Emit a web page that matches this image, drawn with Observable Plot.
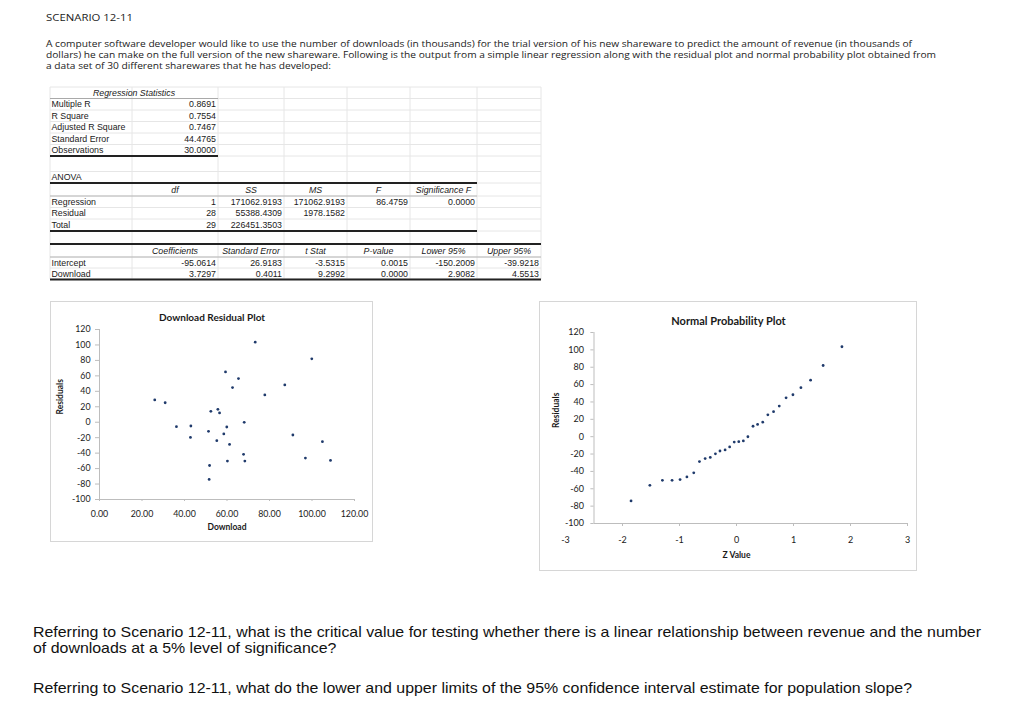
<!DOCTYPE html>
<html><head><meta charset="utf-8">
<script src="https://cdn.jsdelivr.net/npm/d3@7"></script>
<script src="https://cdn.jsdelivr.net/npm/@observablehq/plot@0.6"></script>
<style>
html,body{margin:0;padding:0;background:#fff;}
#page{position:relative;width:1024px;height:711px;overflow:hidden;background:#fff;}
.chartbox{position:absolute;border:1px solid #d6d6d6;background:#fff;}
.chartbox svg{display:block;overflow:visible;}
</style></head><body><div id="page"></div>
<script>
// ---------- text ----------
const scenarioTitle = "SCENARIO 12-11";
const introLines = [
  "A computer software developer would like to use the number of downloads (in thousands) for the trial version of his new shareware to predict the amount of revenue (in thousands of",
  "dollars) he can make on the full version of the new shareware. Following is the output from a simple linear regression along with the residual plot and normal probability plot obtained from",
  "a data set of 30 different sharewares that he has developed:"
];
const questionLines = [
  "Referring to Scenario 12-11, what is the critical value for testing whether there is a linear relationship between revenue and the number",
  "of downloads at a 5% level of significance?",
  "Referring to Scenario 12-11, what do the lower and upper limits of the 95% confidence interval estimate for population slope?"
];

// ---------- regression output tables ----------
const regStatLabels = ["Multiple R", "R Square", "Adjusted R Square", "Standard Error", "Observations"];
const regStatValues = ["0.8691", "0.7554", "0.7467", "44.4765", "30.0000"];
const anovaHeaders = ["df", "SS", "MS", "F", "Significance F"];
const anovaRowLabels = ["Regression", "Residual", "Total"];
const anovaDf = ["1", "28", "29"];
const anovaSS = ["171062.9193", "55388.4309", "226451.3503"];
const anovaMS = ["171062.9193", "1978.1582", ""];
const anovaF = ["86.4759", "", ""];
const anovaSigF = ["0.0000", "", ""];
const coefHeaders = ["Coefficients", "Standard Error", "t Stat", "P-value", "Lower 95%", "Upper 95%"];
const coefRowLabels = ["Intercept", "Download"];
const coefValues = ["-95.0614", "3.7297"];
const coefStdErr = ["26.9183", "0.4011"];
const coefTStat = ["-3.5315", "9.2992"];
const coefPValue = ["0.0015", "0.0000"];
const coefLower95 = ["-150.2009", "2.9082"];
const coefUpper95 = ["-39.9218", "4.5513"];

// ---------- residual plot data ----------
const downloads = [26.0, 30.9, 36.2, 43.0, 42.8, 51.3, 51.8, 51.6, 52.4, 55.7, 56.5, 55.2, 59.3, 59.9, 58.5, 61.2, 60.2, 62.6, 65.4, 68.1, 67.8, 68.4, 73.3, 77.8, 87.2, 91.0, 99.9, 96.9, 104.9, 108.7];
const residuals = [28.8, 25.2, -5.7, -4.9, -19.7, -11.8, -56.0, -74.0, 14.1, 16.7, 12.0, -23.9, 65.1, -6.2, -15.2, -28.7, -50.3, 44.8, 56.5, -0.1, -41.6, -50.3, 103.6, 35.3, 48.3, -16.5, 82.0, -46.4, -25.2, -49.4];
const downloadTicks = [0, 20, 40, 60, 80, 100, 120];
const residualTicks = [-100, -80, -60, -40, -20, 0, 20, 40, 60, 80, 100, 120];

// ---------- normal probability plot data ----------
const zValues = [-1.85, -1.52, -1.30, -1.13, -0.99, -0.87, -0.75, -0.65, -0.55, -0.46, -0.37, -0.29, -0.20, -0.12, -0.04, 0.04, 0.12, 0.20, 0.29, 0.37, 0.46, 0.55, 0.65, 0.75, 0.87, 0.99, 1.13, 1.30, 1.52, 1.85];
const sortedResiduals = [-74.0, -56.0, -50.3, -50.3, -49.4, -46.4, -41.6, -28.7, -25.2, -23.9, -19.7, -16.5, -15.2, -11.8, -6.2, -5.7, -4.9, -0.1, 12.0, 14.1, 16.7, 25.2, 28.8, 35.3, 44.8, 48.3, 56.5, 65.1, 82.0, 103.6];
const zTicks = [-3, -2, -1, 0, 1, 2, 3];

// ================= drawing =================
const page = d3.select("#page");
const svg = page.append("svg").attr("width", 1024).attr("height", 711)
  .style("position", "absolute").style("left", "0px").style("top", "0px");

function measure(str, family, size) {
  const t = svg.append("text").attr("font-family", family).attr("font-size", size).text(str);
  const w = t.node().getComputedTextLength();
  t.remove();
  return w;
}
function line(str, x, yc, family, size, fill, textLength) {
  const t = svg.append("text").attr("x", x).attr("y", yc + 0.33 * size)
    .attr("font-family", family).attr("font-size", size).attr("fill", fill || "#222").text(str);
  if (textLength) t.attr("textLength", textLength).attr("lengthAdjust", "spacingAndGlyphs");
  return t;
}

// intro text (condensed rendering like the reference)
const OS = "Open Sans";
const introSize = 8.9;
const r1 = 866 / measure(introLines[0], OS, introSize);
const r2 = 890 / measure(introLines[1], OS, introSize);
const squeeze = (r1 + r2) / 2;
line(scenarioTitle, 46, 18, OS, 9.2, "#222", 87);
line(introLines[0], 46, 44.5, OS, introSize, "#222", 866);
line(introLines[1], 46, 55.5, OS, introSize, "#222", 890);
line(introLines[2], 46, 66.5, OS, introSize, "#222", measure(introLines[2], OS, introSize) * squeeze);

// question text
const AR = "Liberation Sans";
const qSize = 14.6;
line(questionLines[0], 33, 632, AR, qSize, "#111", 948);
const qr = 948 / measure(questionLines[0], AR, qSize);
line(questionLines[1], 33, 648.5, AR, qSize, "#111", measure(questionLines[1], AR, qSize) * qr);
line(questionLines[2], 33, 688, AR, qSize, "#111", measure(questionLines[2], AR, qSize) * qr);

// spreadsheet tables
const colEdges = [50, 132, 218, 284, 347, 410, 477, 541];
const rowEdges = [87, 98.5, 110, 121.5, 133, 144.5, 156, 171.5, 183, 196, 207.5, 219, 231, 244, 257, 268, 279];
const tg = svg.append("g");
rowEdges.forEach(y => tg.append("line").attr("x1", 50).attr("x2", 541).attr("y1", y).attr("y2", y).attr("stroke", "#e6e6e6"));
colEdges.forEach(x => tg.append("line").attr("x1", x).attr("x2", x).attr("y1", 87).attr("y2", 279).attr("stroke", "#e6e6e6"));
const rc = r => (rowEdges[r] + rowEdges[r + 1]) / 2;
const TF = 8.8;
function cell(str, col, row, align, italic) {
  let x, anchor;
  if (align === "left") { x = colEdges[col] + 1.5; anchor = "start"; }
  else if (align === "right") { x = colEdges[col + 1] - 2; anchor = "end"; }
  else { x = (colEdges[col] + colEdges[col + 1]) / 2; anchor = "middle"; }
  tg.append("text").attr("x", x).attr("y", rc(row) + 0.35 * TF).attr("text-anchor", anchor)
    .attr("font-family", AR).attr("font-size", TF).attr("fill", "#1a1a1a")
    .attr("font-style", italic ? "italic" : "normal").text(str);
}
function hline(y, x1, x2, w, c) {
  tg.append("line").attr("x1", x1).attr("x2", x2).attr("y1", y).attr("y2", y).attr("stroke", c).attr("stroke-width", w);
}
// regression statistics
tg.append("text").attr("x", (colEdges[0] + colEdges[2]) / 2).attr("y", rc(0) + 0.35 * TF).attr("text-anchor", "middle")
  .attr("font-family", AR).attr("font-size", TF).attr("font-style", "italic").attr("fill", "#1a1a1a").text("Regression Statistics");
regStatLabels.forEach((s, i) => { cell(s, 0, 1 + i, "left"); cell(regStatValues[i], 1, 1 + i, "right"); });
hline(rowEdges[1], 50, 218, 0.8, "#999");
hline(rowEdges[6], 50, 218, 1.8, "#222");
// ANOVA
cell("ANOVA", 0, 7, "left");
anovaHeaders.forEach((s, j) => cell(s, 1 + j, 8, "middle", true));
const anovaCols = [anovaDf, anovaSS, anovaMS, anovaF, anovaSigF];
anovaRowLabels.forEach((s, i) => {
  cell(s, 0, 9 + i, "left");
  anovaCols.forEach((col, j) => cell(col[i], 1 + j, 9 + i, "right"));
});
hline(rowEdges[8], 50, 477, 1.8, "#222");
hline(rowEdges[9], 50, 477, 0.8, "#aaa");
hline(rowEdges[12], 50, 477, 1.8, "#222");
// coefficients
coefHeaders.forEach((s, j) => cell(s, 1 + j, 13, "middle", true));
const coefCols = [coefValues, coefStdErr, coefTStat, coefPValue, coefLower95, coefUpper95];
coefRowLabels.forEach((s, i) => {
  cell(s, 0, 14 + i, "left");
  coefCols.forEach((col, j) => cell(col[i], 1 + j, 14 + i, "right"));
});
hline(rowEdges[13], 50, 541, 1.8, "#222");
hline(rowEdges[14], 50, 541, 0.8, "#aaa");
hline(rowEdges[16] + 0.5, 50, 541, 2.2, "#222");

// ---------- charts ----------
const AX = "#bdbdbd", DOT = "#1f3a6b", LBL = "#1a1a1a";
function box(left, top) {
  return page.append("div").attr("class", "chartbox").style("left", left + "px").style("top", top + "px");
}

const resPlot = Plot.plot({
  width: 321, height: 239,
  marginLeft: 48, marginRight: 18, marginTop: 27, marginBottom: 42,
  style: {fontFamily: "Lato", fontSize: "8.8px", color: LBL, background: "white", overflow: "visible"},
  x: {domain: [0, 120]},
  y: {domain: [-100, 120]},
  marks: [
    Plot.ruleY([-100], {stroke: AX}),
    Plot.ruleX([0], {stroke: AX}),
    Plot.axisX(downloadTicks, {tickSize: 2, tickPadding: 9, stroke: AX, tickFormat: d => d.toFixed(2), label: null}),
    Plot.axisY(residualTicks, {tickSize: 4, tickPadding: 5, stroke: AX, tickFormat: d => String(d), label: null}),
    Plot.dot(d3.range(downloads.length), {x: i => downloads[i], y: i => residuals[i], r: 1.4, fill: DOT, stroke: "none"}),
    Plot.text(["Download Residual Plot"], {text: d => d, frameAnchor: "top", dx: -15, dy: -16, fontWeight: "bold", fontSize: 10, fill: LBL}),
    Plot.text(["Download"], {text: d => d, frameAnchor: "bottom", dy: 30, fontWeight: "bold", fontSize: 8.5, fill: LBL}),
    Plot.text(["Residuals"], {text: d => d, frameAnchor: "left", dx: -39, rotate: -90, fontWeight: "bold", fontSize: 8.5, fill: LBL})
  ]
});
box(50, 301).node().appendChild(resPlot);

const nppPlot = Plot.plot({
  width: 376, height: 268,
  marginLeft: 25, marginRight: 9, marginTop: 30, marginBottom: 47,
  style: {fontFamily: "Lato", fontSize: "9px", color: LBL, background: "white", overflow: "visible"},
  x: {domain: [-3, 3]},
  y: {domain: [-100, 120], axis: null},
  marks: [
    Plot.ruleY([-100], {x1: -2.5, x2: 3, stroke: AX}),
    Plot.ruleX([-2.5], {y1: -100, y2: 120, stroke: AX}),
    Plot.ruleY(residualTicks, {y: d => d, x1: -2.555, x2: -2.5, stroke: AX}),
    Plot.text(residualTicks, {x: -2.5, y: d => d, text: d => String(d), dx: -10, textAnchor: "end", fill: LBL, fontSize: 9}),
    Plot.axisX(zTicks.filter(d => d > -2.5), {tickSize: 3, tickFormat: () => "", stroke: AX, label: null}),
    Plot.axisX(zTicks, {tickSize: 0, tickPadding: 13, tickFormat: d => String(d), label: null, fontSize: 9}),
    Plot.dot(d3.range(zValues.length), {x: i => zValues[i], y: i => sortedResiduals[i], r: 1.4, fill: DOT, stroke: "none"}),
    Plot.text(["Normal Probability Plot"], {text: d => d, frameAnchor: "top", dx: -8, dy: -15, fontWeight: "bold", fontSize: 11, fill: LBL}),
    Plot.text(["Z Value"], {text: d => d, frameAnchor: "bottom", dy: 34, fontWeight: "bold", fontSize: 8.5, fill: LBL}),
    Plot.text(["Residuals"], {text: d => d, frameAnchor: "left", dx: -9, rotate: -90, fontWeight: "bold", fontSize: 8.5, fill: LBL})
  ]
});
box(539, 301).node().appendChild(nppPlot);
</script></body></html>
